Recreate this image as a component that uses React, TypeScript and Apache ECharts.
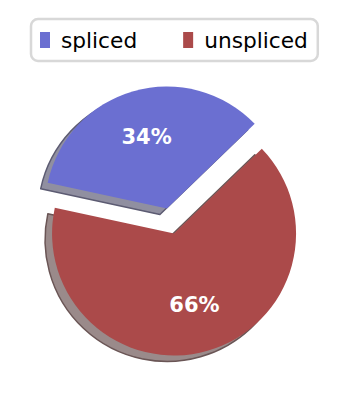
import React, { useEffect, useRef } from 'react';
import * as echarts from 'echarts';

const categories = ['spliced', 'unspliced'];
const values = [34.4, 65.6];
const colors = ['#6b6fd1', '#ab4a4a'];
const shadowColors = ['#908fa0', '#9a8a8a'];
const shadowEdges = ['#5c5b72', '#6a5555'];

const CX = 170.5;
const CY = 221;
const R = 122;
const OFF = 13;
const START = 44;
const FONT = 'DejaVu Sans';

export default function App() {
  const ref = useRef<HTMLDivElement>(null);
  useEffect(() => {
    const chart = echarts.init(ref.current as HTMLDivElement, null, { renderer: 'svg' });
    const common = {
      type: 'pie',
      startAngle: START,
      clockwise: false,
      selectedMode: 'multiple',
      selectedOffset: OFF,
      avoidLabelOverlap: false,
      emphasis: { disabled: true, scale: false },
      labelLine: { show: false },
    };
    chart.setOption({
      animation: false,
      legend: {
        data: categories,
        left: 31,
        top: 19,
        orient: 'horizontal',
        icon: 'rect',
        itemWidth: 10,
        itemHeight: 16,
        itemGap: 46,
        padding: [10, 10, 10, 9],
        borderColor: '#d8d8d8',
        borderWidth: 2.5,
        borderRadius: 7,
        selectedMode: false,
        textStyle: { fontSize: 21.7, fontFamily: FONT, color: '#000', padding: [0, 0, 0, 6] },
      },
      series: [
        {
          ...common,
          name: 'main',
          z: 3,
          center: [CX, CY],
          radius: [0, R],
          label: { show: false },
          data: categories.map((n, i) => ({
            name: n,
            value: values[i],
            selected: true,
            itemStyle: { color: colors[i] },
            select: { itemStyle: { color: colors[i] } },
          })),
        },
        {
          ...common,
          name: 'shadow',
          z: 1,
          center: [CX - 7, CY + 6],
          radius: [0, R],
          label: { show: false },
          data: categories.map((n, i) => ({
            name: n,
            value: values[i],
            selected: true,
            itemStyle: { color: shadowColors[i], borderColor: shadowEdges[i], borderWidth: 1.5 },
            select: { itemStyle: { color: shadowColors[i], borderColor: shadowEdges[i], borderWidth: 1.5 } },
          })),
        },
        {
          ...common,
          name: 'labels',
          z: 4,
          center: [CX, CY],
          radius: [0, R * 1.17],
          label: {
            show: true,
            position: 'inside',
            formatter: (p: any) => Math.round(p.percent) + '%',
            color: '#fff',
            fontWeight: 'bold',
            fontSize: 21,
            fontFamily: FONT,
          },
          data: categories.map((n, i) => ({
            name: n,
            value: values[i],
            selected: true,
            itemStyle: { color: 'rgba(0,0,0,0)' },
            select: { itemStyle: { color: 'rgba(0,0,0,0)' } },
          })),
        },
      ],
    });
    return () => chart.dispose();
  }, []);
  return (
    <div
      ref={ref}
      style={{ position: 'absolute', left: 0, top: 0, width: 344, height: 395, background: '#fff' }}
    />
  );
}
